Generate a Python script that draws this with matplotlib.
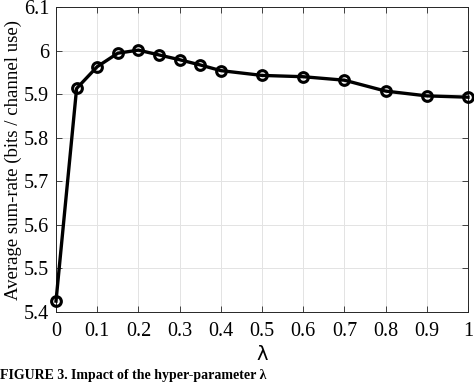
#!/usr/bin/env python3
"""Average sum-rate versus lambda, MATLAB-style line plot."""

import matplotlib

matplotlib.use("Agg")
import matplotlib.pyplot as plt

LAMBDA = [0.0, 0.05, 0.1, 0.15, 0.2, 0.25, 0.3, 0.35, 0.4, 0.5, 0.6, 0.7, 0.8, 0.9, 1.0]
SUM_RATE = [5.425, 5.913, 5.963, 5.994, 6.001, 5.990, 5.979, 5.967, 5.954,
            5.943, 5.940, 5.932, 5.907, 5.896, 5.893]
X_TICKS = [0, 0.1, 0.2, 0.3, 0.4, 0.5, 0.6, 0.7, 0.8, 0.9, 1]
X_TICK_LABELS = ["0", "0.1", "0.2", "0.3", "0.4", "0.5", "0.6", "0.7", "0.8", "0.9", "1"]
Y_TICKS = [5.4, 5.5, 5.6, 5.7, 5.8, 5.9, 6.0, 6.1]
Y_TICK_LABELS = ["5.4", "5.5", "5.6", "5.7", "5.8", "5.9", "6", "6.1"]

W, H = 474, 382
SERIF = "Liberation Serif"

fig = plt.figure(figsize=(W / 100, H / 100), dpi=100)
ax = fig.add_axes([56 / W, 1 - 312 / H, (468 - 56) / W, (312 - 7) / H])

ax.plot(LAMBDA, SUM_RATE, color="black", linewidth=2.4, marker="o",
        markersize=7, markerfacecolor="none", markeredgewidth=2.2,
        markeredgecolor="black", clip_on=False, zorder=3)

ax.set_xlim(0, 1)
ax.set_ylim(5.4, 6.1)
ax.set_xticks(X_TICKS)
ax.set_xticklabels(X_TICK_LABELS, fontfamily=SERIF, fontsize=14.5)
ax.set_yticks(Y_TICKS)
ax.set_yticklabels(Y_TICK_LABELS, fontfamily=SERIF, fontsize=14.5)
ax.tick_params(direction="in", top=True, right=True, length=4, width=0.6,
               color="#262626", pad=5)
ax.tick_params(axis="x", pad=7)
ax.grid(True, color="#e3e3e3", linewidth=0.7)
ax.set_axisbelow(True)
for spine in ax.spines.values():
    spine.set_color("#262626")
    spine.set_linewidth(0.7)

ax.set_xlabel("λ", fontfamily="DejaVu Sans", fontsize=14, labelpad=3)
ax.set_ylabel("Average sum-rate (bits / channel use)", fontfamily=SERIF,
              fontsize=13.5, labelpad=1)

# figure caption along the bottom edge
cap_y = 1 - 379 / H
fig.text(0.0, cap_y, "FIGURE 3.", fontfamily=SERIF, fontweight="bold",
         fontsize=10, ha="left", va="baseline")
fig.text(0.15, cap_y, "Impact of the hyper-parameter λ", fontfamily=SERIF,
         fontweight="bold", fontsize=10, ha="left", va="baseline")

fig.savefig("out.png", dpi=100)
